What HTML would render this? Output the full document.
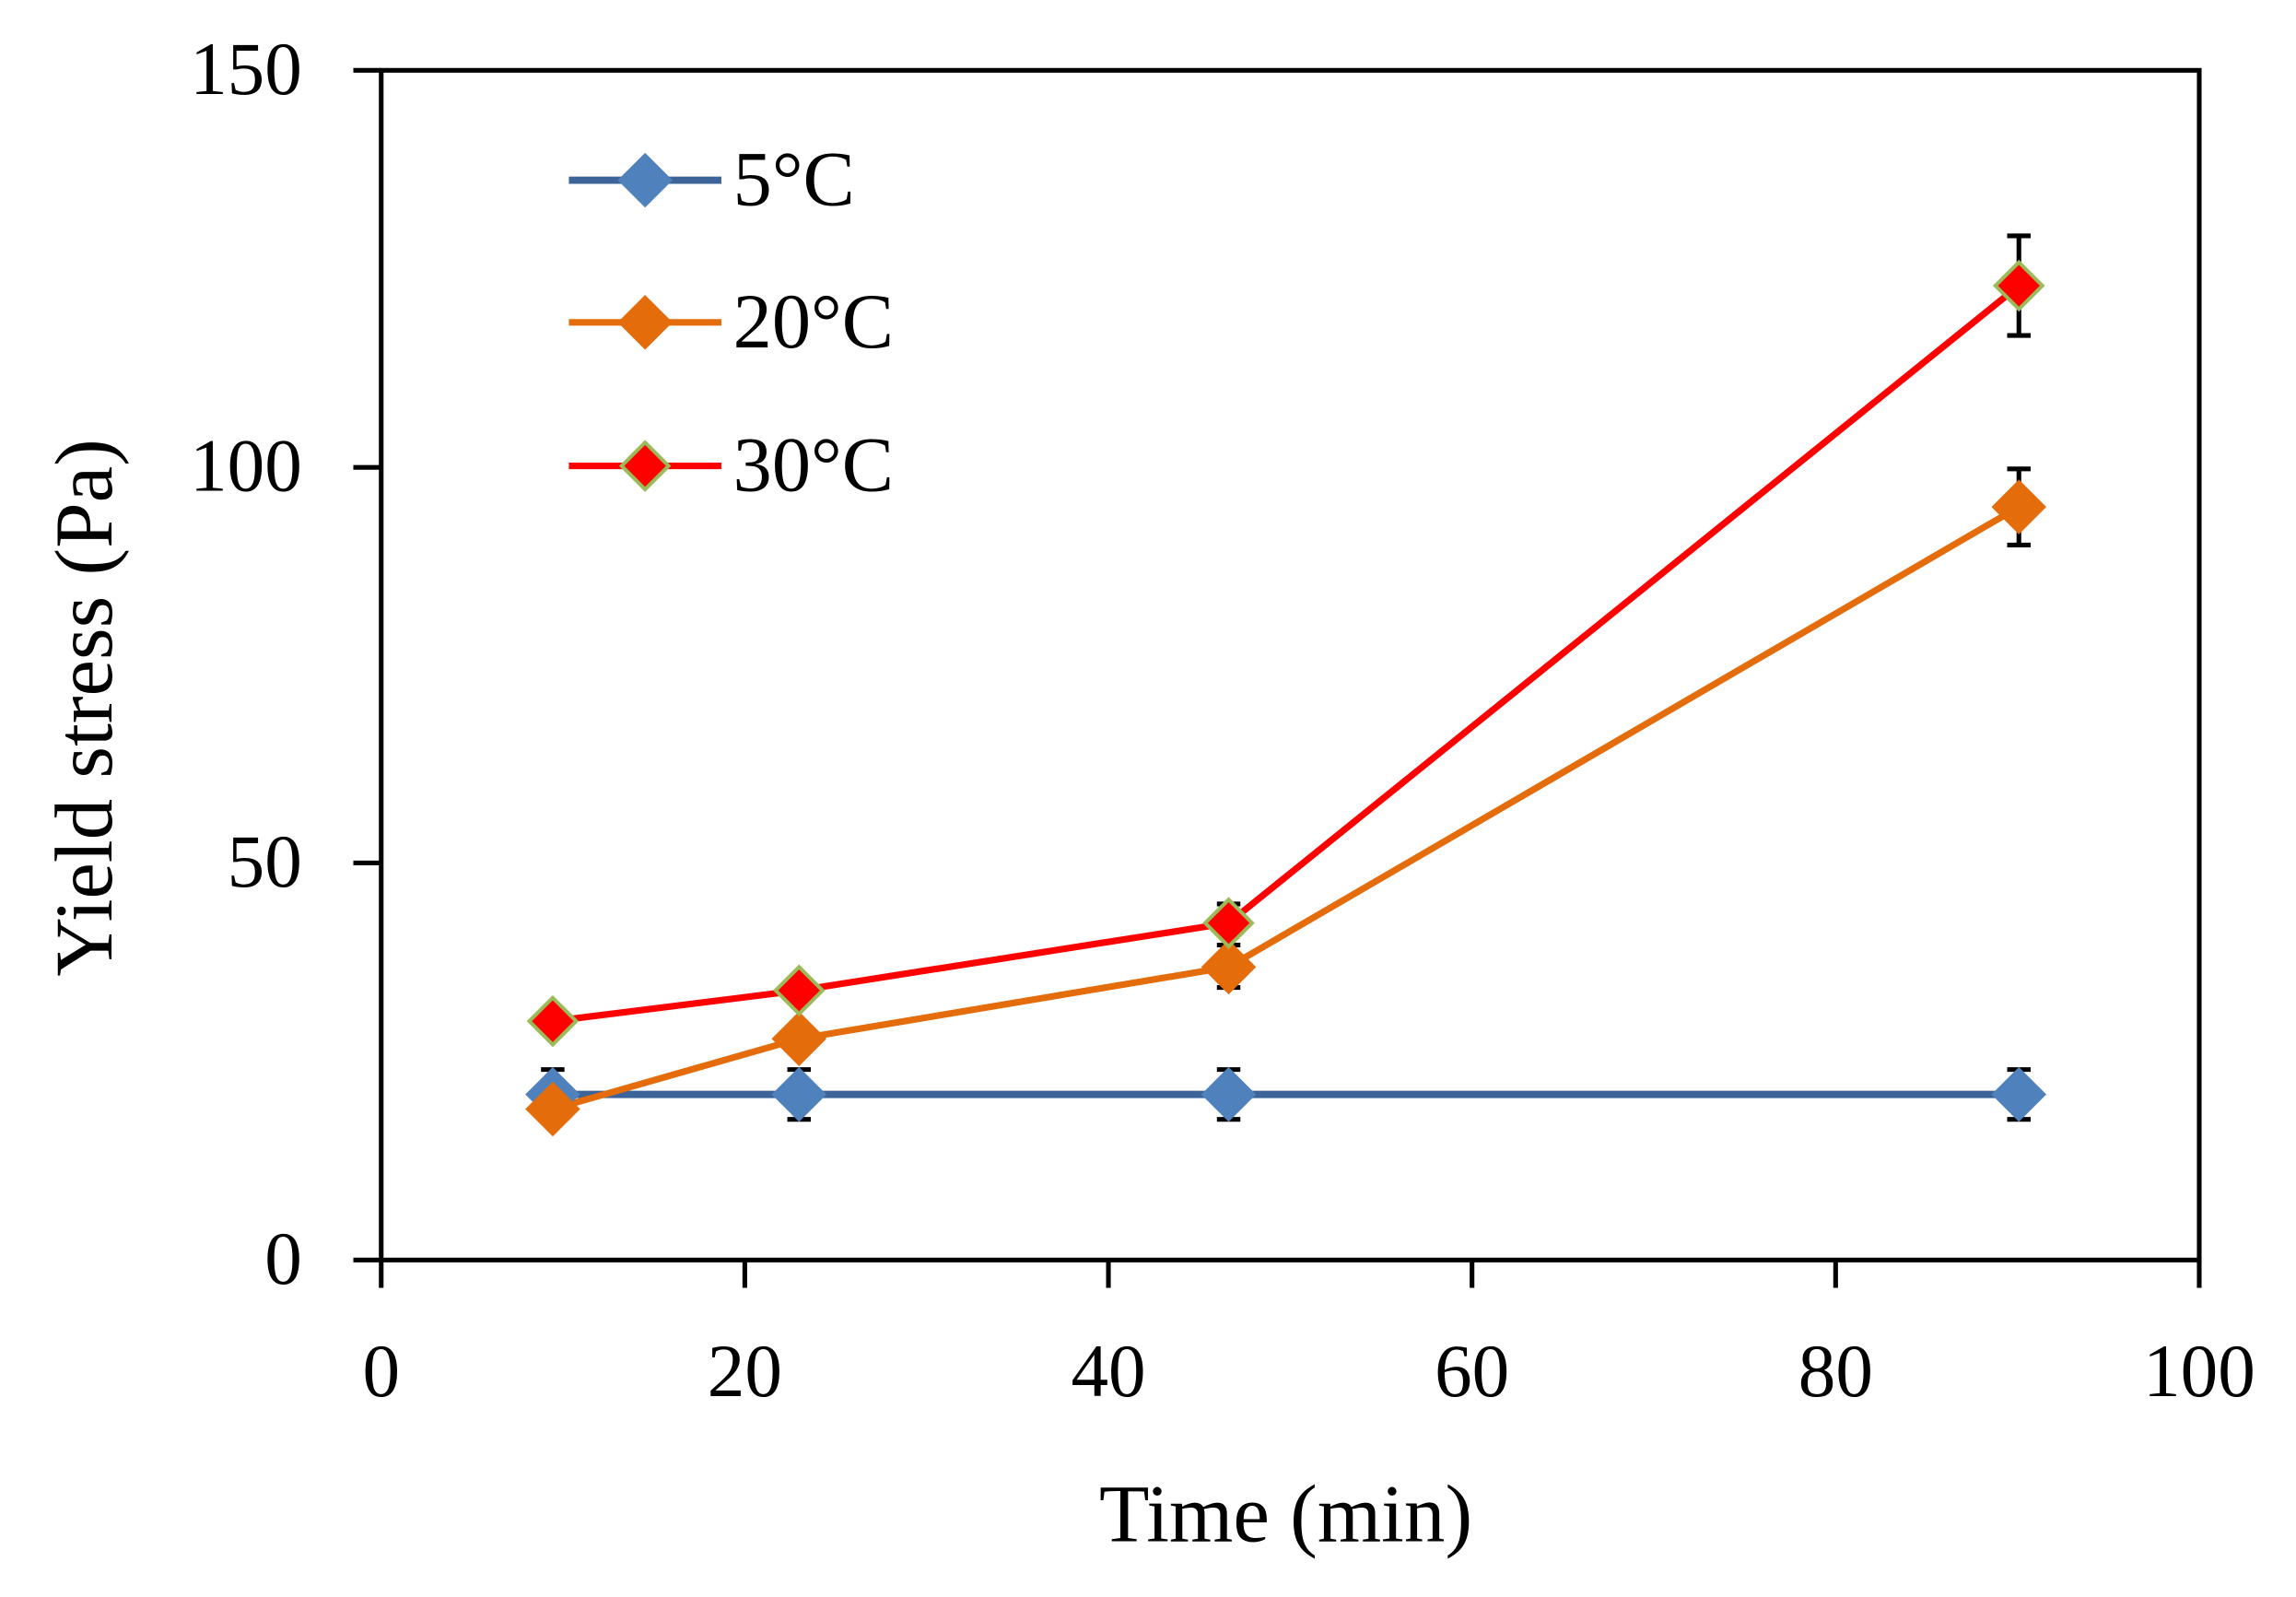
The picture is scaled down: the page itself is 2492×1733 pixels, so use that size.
<!DOCTYPE html>
<html><head><meta charset="utf-8"><style>
html,body{margin:0;padding:0;background:#fff;}
svg{display:block;}
text{font-family:"Liberation Serif",serif;fill:#000;}
</style></head><body>
<svg width="2492" height="1733" viewBox="0 0 1566 1090" preserveAspectRatio="none" xmlns="http://www.w3.org/2000/svg">
<defs>
<path id="db" d="M0,-18 L18,0 L0,18 L-18,0 Z" fill="#4f81bd" stroke="#4f81bd" stroke-width="1"/>
<path id="do" d="M0,-18 L18,0 L0,18 L-18,0 Z" fill="#e46c0a" stroke="#e46c0a" stroke-width="1"/>
<path id="dr" d="M0,-16 L16,0 L0,16 L-16,0 Z" fill="#ff0000" stroke="#9bbb59" stroke-width="2.5"/>
</defs>
<g stroke="#000" stroke-width="3.2" fill="none">
<rect x="260" y="48" width="1240" height="812"/>
<line x1="241" y1="48" x2="260" y2="48"/><line x1="241" y1="319" x2="260" y2="319"/>
<line x1="241" y1="589" x2="260" y2="589"/><line x1="241" y1="860" x2="260" y2="860"/>
<line x1="260" y1="860" x2="260" y2="879"/><line x1="508" y1="860" x2="508" y2="879"/>
<line x1="756" y1="860" x2="756" y2="879"/><line x1="1004" y1="860" x2="1004" y2="879"/>
<line x1="1252" y1="860" x2="1252" y2="879"/><line x1="1500" y1="860" x2="1500" y2="879"/>
</g>
<g font-size="51" text-anchor="end">
<text x="206" y="64">150</text><text x="206" y="335">100</text>
<text x="206" y="605">50</text><text x="206" y="876">0</text>
</g>
<g font-size="51" text-anchor="middle">
<text x="260" y="953">0</text><text x="508" y="953">20</text><text x="756" y="953">40</text>
<text x="1004" y="953">60</text><text x="1252" y="953">80</text><text x="1500" y="953">100</text>
</g>
<text x="877" y="1052" font-size="56" text-anchor="middle">Time (min)</text>
<text transform="translate(76,483) rotate(-90)" font-size="56" text-anchor="middle">Yield stress (Pa)</text>
<g stroke="#000" stroke-width="3.2">
<path d="M377,730V764M369,730H385M369,764H385"/>
<path d="M545,730V764M537,730H553M537,764H553"/>
<path d="M838,730V764M830,730H846M830,764H846"/>
<path d="M1377,730V764M1369,730H1385M1369,764H1385"/>
<path d="M1377,320V372M1369,320H1385M1369,372H1385"/>
<path d="M1377,161V229M1369,161H1385M1369,229H1385"/>
<path d="M838,617V645M830,617H846M830,645H846"/>
<path d="M838,648V674M830,674H846"/>
</g>
<polyline points="377,747 545,747 838,747 1377,747" fill="none" stroke="#3c6499" stroke-width="5"/>
<polyline points="377,757 545,709 838,660 1377,346" fill="none" stroke="#e46c0a" stroke-width="4.5"/>
<polyline points="377,697 545,676 838,630 1377,195" fill="none" stroke="#ff0000" stroke-width="4.5"/>
<use href="#db" x="377" y="747"/><use href="#db" x="545" y="747"/><use href="#db" x="838" y="747"/><use href="#db" x="1377" y="747"/>
<use href="#do" x="377" y="757"/><use href="#do" x="545" y="709"/><use href="#do" x="838" y="660"/><use href="#do" x="1377" y="346"/>
<use href="#dr" x="377" y="697"/><use href="#dr" x="545" y="676"/><use href="#dr" x="838" y="630"/><use href="#dr" x="1377" y="195"/>
<line x1="388" y1="123" x2="492" y2="123" stroke="#3c6499" stroke-width="5"/><use href="#db" x="440" y="123"/>
<line x1="388" y1="220" x2="492" y2="220" stroke="#e46c0a" stroke-width="4.5"/><use href="#do" x="440" y="220"/>
<line x1="388" y1="318" x2="492" y2="318" stroke="#ff0000" stroke-width="4.5"/><use href="#dr" x="440" y="318"/>
<g font-size="53">
<text x="500" y="140">5°C</text><text x="500" y="237">20°C</text><text x="500" y="335">30°C</text>
</g>
</svg>
</body></html>
